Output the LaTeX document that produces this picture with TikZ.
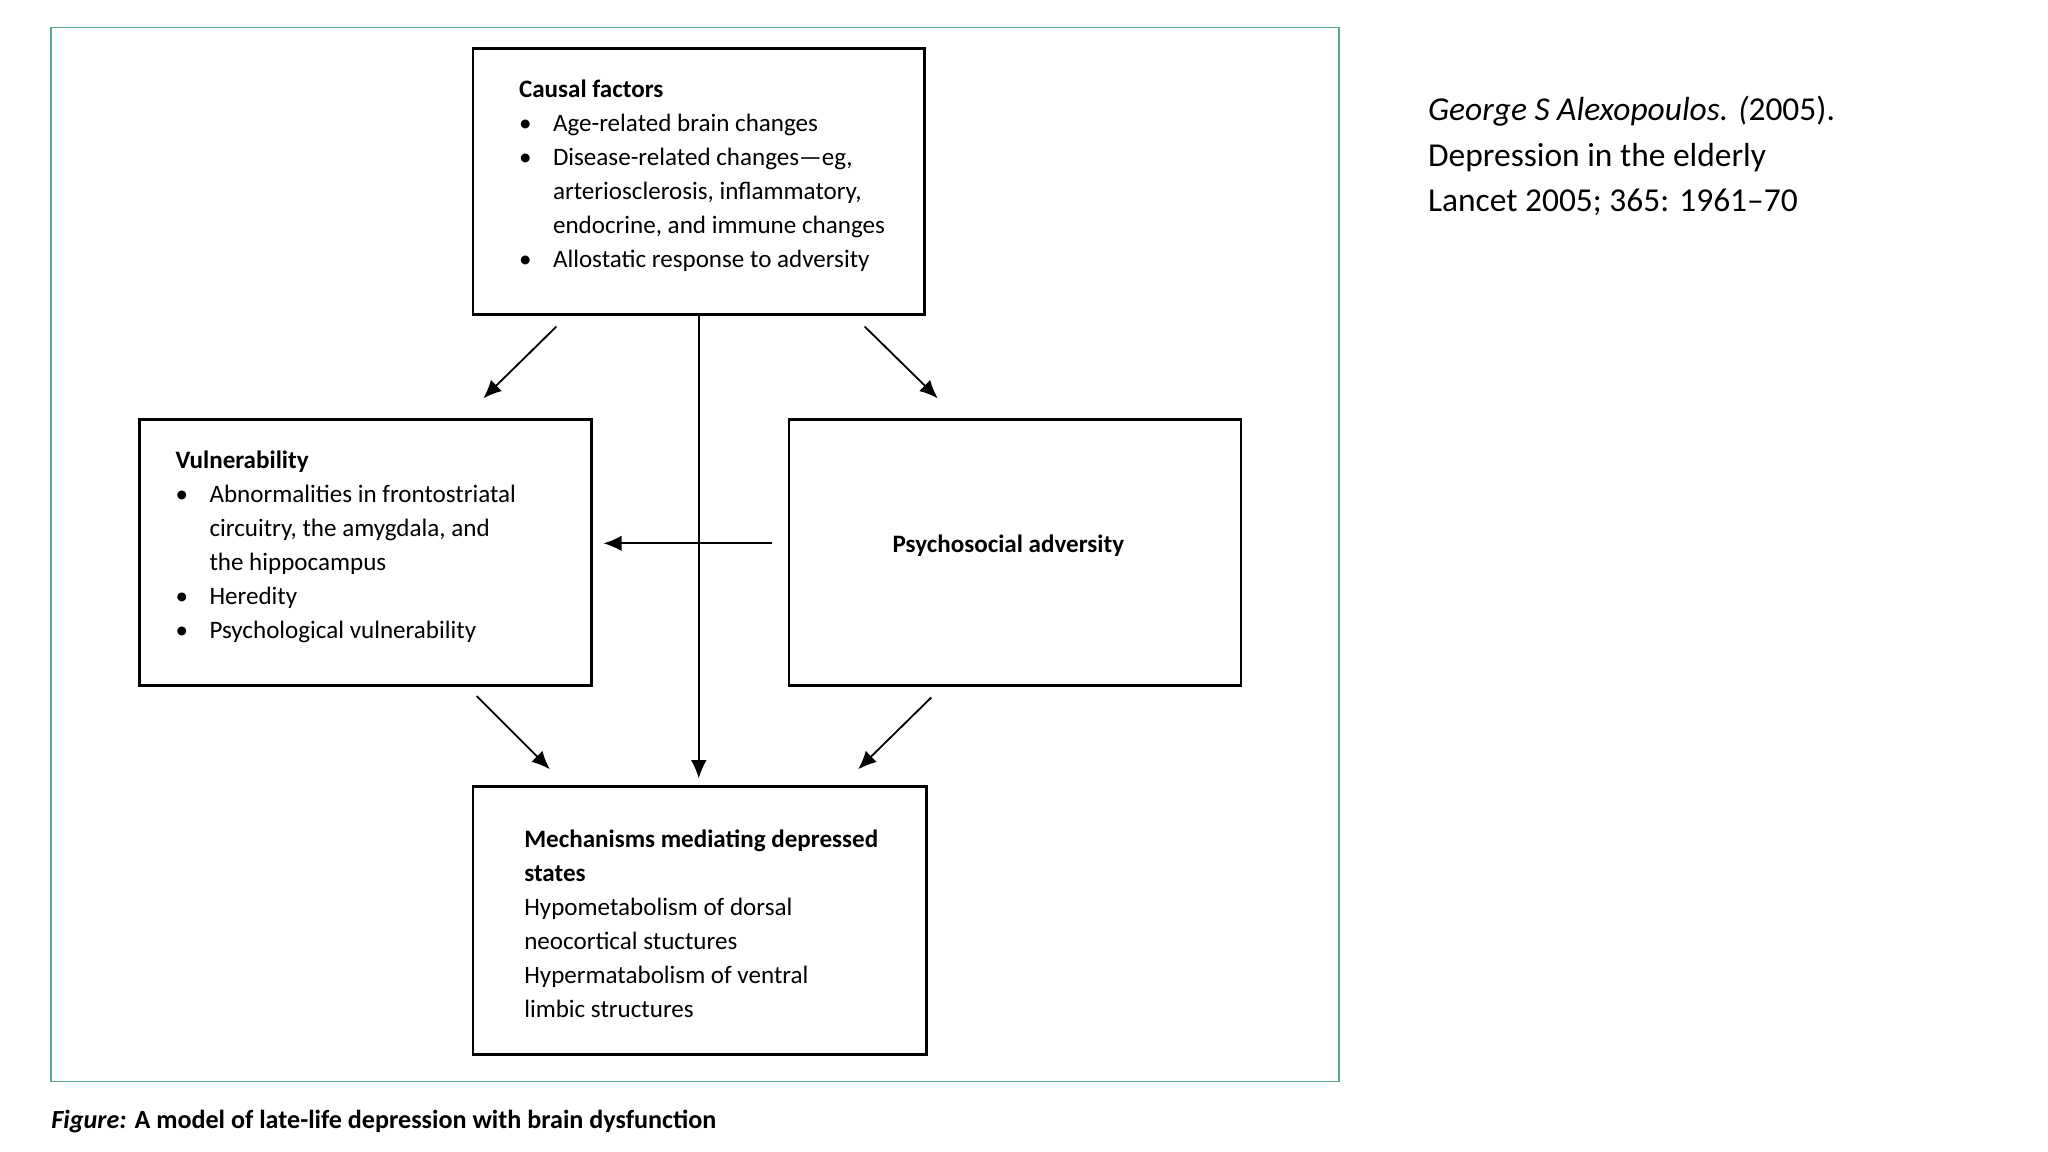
\documentclass[tikz,border=0pt]{standalone}
\usepackage{fontspec}
\setmainfont{Carlito}
\usetikzlibrary{arrows.meta}
\definecolor{frame}{RGB}{90,165,150}
\newcommand{\bl}{\makebox[13pt][l]{\textbullet}}
\tikzset{
 box/.style={draw=black,line width=1.1pt},
 txt/.style={anchor=north west,inner sep=0pt,align=left,font=\fontsize{9.6}{13}\selectfont},
 arr/.style={line width=0.7pt,-{Latex[length=7pt,width=6pt]}}
}
\begin{document}
\begin{tikzpicture}[x=0.5pt,y=-0.5pt]
\useasboundingbox (0,0) rectangle (1568,882);
\draw[frame,line width=0.6pt] (39,21) rectangle (1025,828);
\node[box,minimum width=173pt,minimum height=102pt,anchor=north west] (top) at (361,36) {};
\node[box,minimum width=173pt,minimum height=102pt,anchor=north west] (vul) at (106,320) {};
\node[box,minimum width=173pt,minimum height=102pt,anchor=north west] (psy) at (603,320) {};
\node[box,minimum width=173.5pt,minimum height=102.5pt,anchor=north west] (bot) at (361,601) {};
\node[txt] (toptxt) at (397,61) {\textbf{Causal factors}\\
\bl Age-related brain changes\\
\bl Disease-related changes---eg,\\
\hspace*{13pt}arteriosclerosis, inflammatory,\\
\hspace*{13pt}endocrine, and immune changes\\
\bl Allostatic response to adversity};
\node[txt] (vultxt) at (134,345) {\textbf{Vulnerability}\\
\bl Abnormalities in frontostriatal\\
\hspace*{13pt}circuitry, the amygdala, and\\
\hspace*{13pt}the hippocampus\\
\bl Heredity\\
\bl Psychological vulnerability};
\node[txt,anchor=center] (psytxt) at (772,418) {\textbf{Psychosocial adversity}};
\node[txt] (bottxt) at (401,635) {\textbf{Mechanisms mediating depressed}\\
\textbf{states}\\
Hypometabolism of dorsal\\
neocortical stuctures\\
Hypermatabolism of ventral\\
limbic structures};
\coordinate (a1s) at (426,250); \coordinate (a1e) at (370,305);
\coordinate (a2s) at (662,250); \coordinate (a2e) at (718,305);
\coordinate (vs) at (535,240); \coordinate (ve) at (535,596);
\coordinate (hs) at (591,416); \coordinate (he) at (462,416);
\coordinate (b1s) at (365,533); \coordinate (b1e) at (421,589);
\coordinate (b2s) at (713,534); \coordinate (b2e) at (657,589);
\draw[arr] (a1s) -- (a1e);
\draw[arr] (a2s) -- (a2e);
\draw[arr] (vs) -- (ve);
\draw[arr] (hs) -- (he);
\draw[arr] (b1s) -- (b1e);
\draw[arr] (b2s) -- (b2e);
\node[anchor=west,inner sep=0pt,font=\fontsize{10}{12}\selectfont] (cap) at (39,859) {\textbf{\textit{Figure:}} \textbf{A model of late-life depression with brain dysfunction}};
\node[anchor=north west,inner sep=0pt,align=left,font=\fontsize{12.8}{17.5}\selectfont] (cite) at (1093,73) {\textit{George S Alexopoulos. (}2005).\\Depression in the elderly\\Lancet 2005; 365: 1961--70};
\end{tikzpicture}
\end{document}
